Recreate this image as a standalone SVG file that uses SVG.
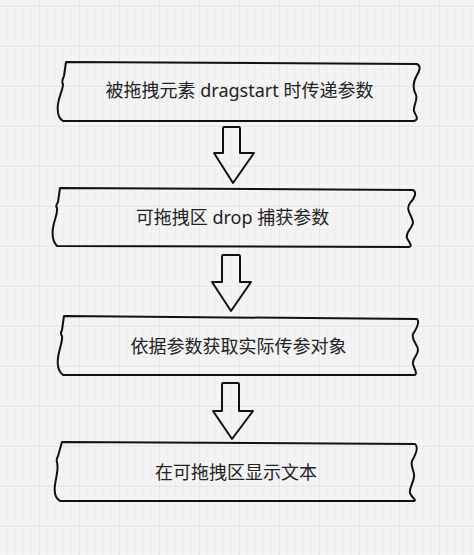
<svg xmlns="http://www.w3.org/2000/svg" width="474" height="555" viewBox="0 0 474 555">
  <defs>
    <pattern id="minor" patternUnits="userSpaceOnUse" x="0" y="7" width="8" height="8">
      <path d="M8 0 V8 M0 8 H8" fill="none" stroke="#e6e6e6" stroke-width="0.6"/>
    </pattern>
    <pattern id="major" patternUnits="userSpaceOnUse" x="0" y="7" width="40" height="40">
      <rect width="40" height="40" fill="url(#minor)"/>
      <path d="M40 0 V40 M0 40 H40" fill="none" stroke="#dcdcdc" stroke-width="1"/>
    </pattern>
    <style>
      .box { fill: none; stroke: #111; stroke-width: 2; stroke-linejoin: round; stroke-linecap: round; }
      .arrow { fill: none; stroke: #111; stroke-width: 2; stroke-linejoin: round; }
      .label { font-family: "Noto Sans", "Noto Sans CJK SC", sans-serif; font-size: 18px; fill: #222; text-anchor: middle; }
    </style>
  </defs>
  <rect width="474" height="555" fill="#f4f4f4"/>
  <rect width="474" height="555" fill="url(#major)"/>

  <g id="connectors">
    <path class="arrow" d="M224,127 L239,127 Q240,127 240,129 L240,153 L254,153 L233,183 L214,153 L223,153 L223,129 Q223,127 224,127 Z"/>
    <path class="arrow" d="M223,255 L239,255 Q240,255 240,257 L240,282 L251,282 L231,311 L212,282 L222,282 L222,257 Q222,255 223,255 Z"/>
    <path class="arrow" d="M223,383 L238,383 Q239,383 239,385 L239,411 L253,411 L232,439 L213,411 L222,411 L222,385 Q222,383 223,383 Z"/>
  </g>

  <g id="node1">
    <path class="box" d="M66,62 L417,64 C421,66 420,70 417,75 C413,82 412,88 416,95 C418,100 413,106 414,111 C415,115 420,119 414,121 L63,121 C58,118 57,112 58,104 C59,96 63,90 63,84 C61,82 63,79 64,76 L66,62 Z"/>
    <text class="label" x="239.5" y="96.5">被拖拽元素 dragstart 时传递参数</text>
  </g>

  <g id="node2">
    <path class="box" d="M60,188 L413,190 C417,192 415,198 410,203 C405,210 412,215 413,222 C413,228 405,232 407,238 C409,242 413,246 409,247 L57,246 C53,242 52,235 53,228 C54,220 58,214 57,208 C55,206 57,204 58,202 L60,188 Z"/>
    <text class="label" x="232.5" y="223.5">可拖拽区 drop 捕获参数</text>
  </g>

  <g id="node3">
    <path class="box" d="M64,316 L417,319 C420,322 417,328 413,334 C411,340 418,345 418,350 C418,356 412,358 413,364 C414,369 418,373 415,375 L63,375 C59,372 57,366 58,358 C59,348 63,342 62,336 C60,334 61,332 62,330 L64,316 Z"/>
    <text class="label" x="238.5" y="352.5">依据参数获取实际传参对象</text>
  </g>

  <g id="node4">
    <path class="box" d="M62,442 L415,444 C419,447 416,454 412,461 C410,467 415,471 414,477 C413,484 409,488 410,493 C411,497 417,500 414,501 L60,501 C55,498 54,492 55,485 C56,476 59,470 57,462 C56,460 57,458 58,456 L62,442 Z"/>
    <text class="label" x="236" y="478.5">在可拖拽区显示文本</text>
  </g>
</svg>
